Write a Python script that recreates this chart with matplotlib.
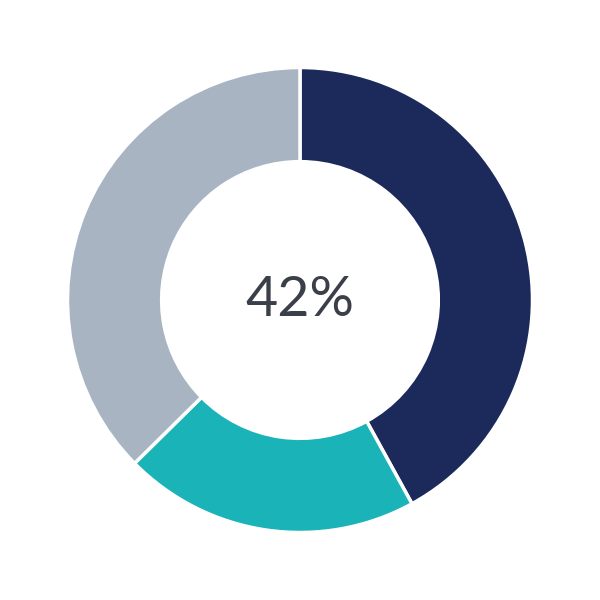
import matplotlib
matplotlib.use("Agg")
import matplotlib.pyplot as plt

labels = ["A", "B", "C"]
values = [42, 20.6, 37.4]
colors = ["#1b2a5b", "#1ab3b8", "#a9b4c2"]
center_text = "42%"

fig = plt.figure(figsize=(6, 6), dpi=100)
ax = fig.add_axes([0, 0, 1, 1])
ax.pie(values, colors=colors, startangle=90, counterclock=False, radius=1,
       wedgeprops=dict(width=0.405, edgecolor="white", linewidth=2.5))
lim = 300 / 232.5
ax.set_xlim(-lim, lim)
ax.set_ylim(-lim, lim)
ax.set_aspect("equal")
ax.axis("off")
ax.text(0, 0, center_text, ha="center", va="center", fontsize=40,
        color="#3a3f4a", family=["Lato", "DejaVu Sans"])
fig.savefig("out.png", dpi=100, facecolor="white")
